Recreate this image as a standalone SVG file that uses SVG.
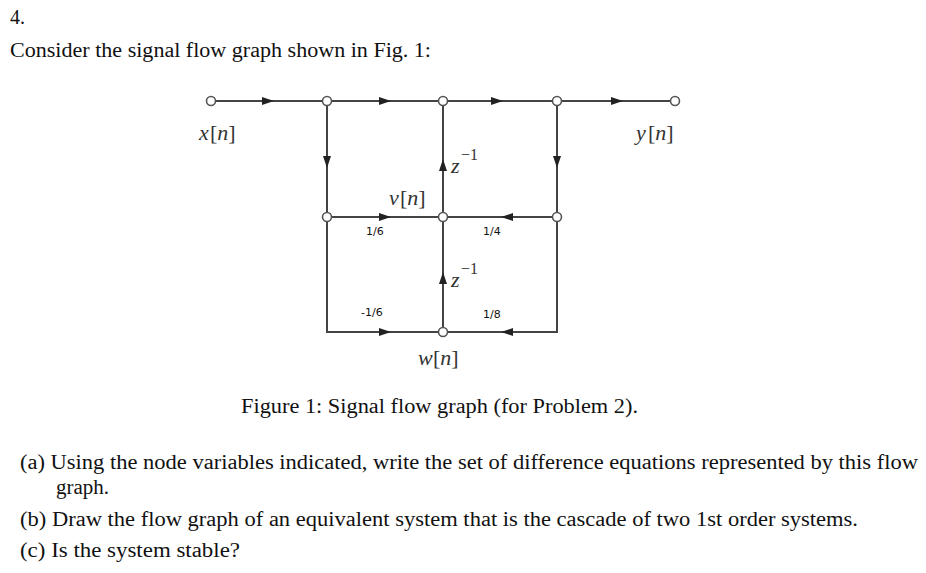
<svg xmlns="http://www.w3.org/2000/svg" width="926" height="573" viewBox="0 0 926 573">
<style>
.t{font-family:"Liberation Serif",serif;font-size:20px;fill:#111}
.g{font-family:"Liberation Serif",serif;font-size:22px;fill:#333}
.gi{font-family:"Liberation Serif",serif;font-size:22px;fill:#333;font-style:italic}
.sup{font-family:"Liberation Serif",serif;font-size:16px;fill:#333}
.s{font-family:"DejaVu Sans",sans-serif;font-size:11px;fill:#111}
.l{stroke:#444;stroke-width:2;fill:none}
.n{fill:#fff;stroke:#555;stroke-width:1.6}
</style>
<defs><path id="ar" d="M-6,-4 L6,0 L-6,4 Z" fill="#222"/></defs>
<rect width="926" height="573" fill="#fff"/>
<text class="t" x="10" y="24">4.</text>
<text class="t" x="10" y="57" textLength="421" lengthAdjust="spacingAndGlyphs">Consider the signal flow graph shown in Fig. 1:</text>
<g id="connectors">
<path class="l" d="M211,101 H675 M327,101 V332 H557 V101 M443,101 V332 M327,217 H557"/>
<use href="#ar" x="268" y="101"/><use href="#ar" x="385" y="101"/><use href="#ar" x="497" y="101"/><use href="#ar" x="617" y="101"/>
<use href="#ar" transform="translate(327,162) rotate(90)"/><use href="#ar" transform="translate(557,162) rotate(90)"/>
<use href="#ar" transform="translate(443,165) rotate(-90)"/><use href="#ar" transform="translate(443,278) rotate(-90)"/>
<use href="#ar" x="385" y="217"/><use href="#ar" transform="translate(507,217) rotate(180)"/>
<use href="#ar" x="385" y="332"/><use href="#ar" transform="translate(507,332) rotate(180)"/>
</g>
<g id="x"><circle class="n" cx="211" cy="101" r="4.5"/><text class="gi" x="199" y="140">x</text><text class="g" x="210" y="140">[<tspan font-style="italic">n</tspan>]</text></g>
<g id="n1"><circle class="n" cx="327" cy="101" r="4.5"/></g>
<g id="n2"><circle class="n" cx="443" cy="101" r="4.5"/></g>
<g id="n3"><circle class="n" cx="557" cy="101" r="4.5"/></g>
<g id="y"><circle class="n" cx="675" cy="101" r="4.5"/><text class="gi" x="636" y="140">y</text><text class="g" x="648" y="140">[<tspan font-style="italic">n</tspan>]</text></g>
<g id="m1"><circle class="n" cx="327" cy="217" r="4.5"/></g>
<g id="v"><circle class="n" cx="443" cy="217" r="4.5"/><text class="gi" x="389" y="205">v</text><text class="g" x="400" y="205">[<tspan font-style="italic">n</tspan>]</text></g>
<g id="m3"><circle class="n" cx="557" cy="217" r="4.5"/></g>
<g id="w"><circle class="n" cx="443" cy="332" r="4.5"/><text class="gi" x="418" y="365">w</text><text class="g" x="433" y="365">[<tspan font-style="italic">n</tspan>]</text></g>
<g id="labels">
<text class="gi" x="451" y="173">z</text><text class="sup" x="461" y="160">−1</text>
<text class="gi" x="451" y="287">z</text><text class="sup" x="461" y="274">−1</text>
<text class="s" x="366" y="235">1/6</text><text class="s" x="483" y="235">1/4</text>
<text class="s" x="361" y="316">-1/6</text><text class="s" x="483" y="318">1/8</text>
</g>
<text class="t" x="241" y="413" textLength="397" lengthAdjust="spacingAndGlyphs">Figure 1: Signal flow graph (for Problem 2).</text>
<text class="t" x="20" y="469" textLength="898" lengthAdjust="spacingAndGlyphs">(a)  Using the node variables indicated, write the set of difference equations represented by this flow</text>
<text class="t" x="56" y="494" textLength="53" lengthAdjust="spacingAndGlyphs">graph.</text>
<text class="t" x="20" y="526" textLength="838" lengthAdjust="spacingAndGlyphs">(b)  Draw the flow graph of an equivalent system that is the cascade of two 1st order systems.</text>
<text class="t" x="20" y="557" textLength="220" lengthAdjust="spacingAndGlyphs">(c)  Is the system stable?</text>
</svg>
